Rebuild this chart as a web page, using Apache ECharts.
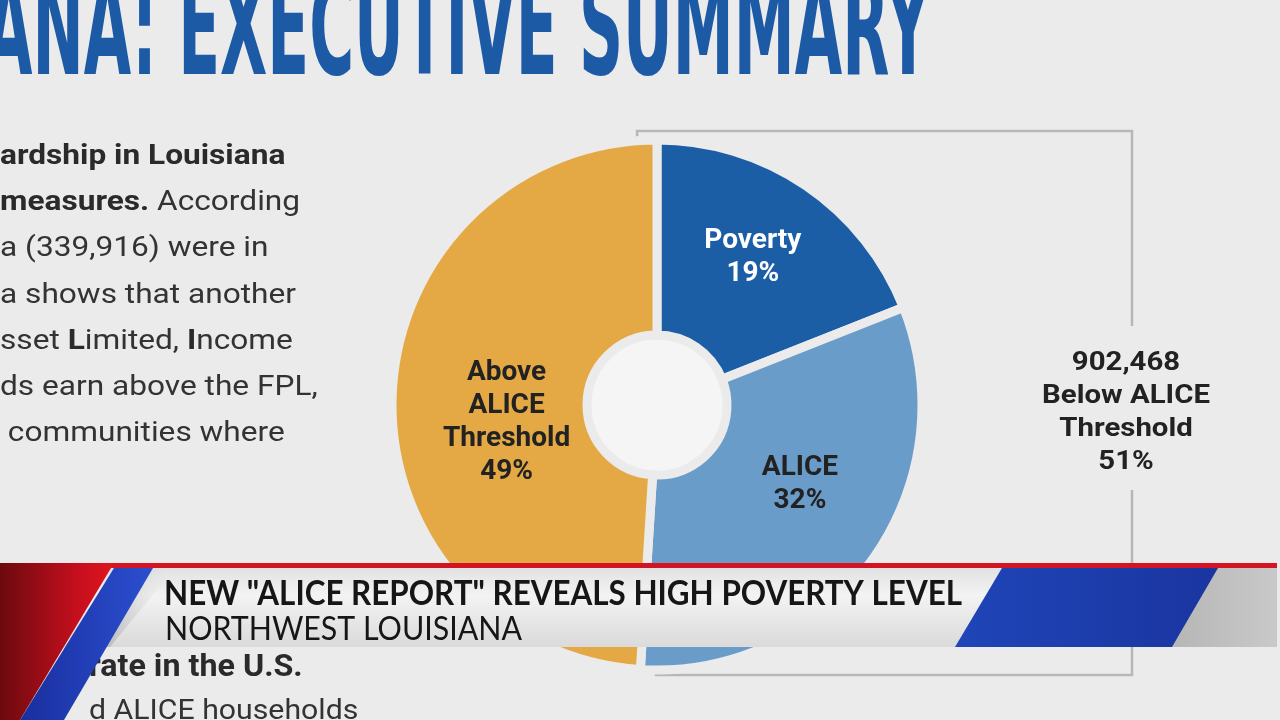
<!DOCTYPE html>
<html><head><meta charset="utf-8">
<script src="https://cdn.jsdelivr.net/npm/echarts@6/dist/echarts.min.js"></script>
<style>html,body{margin:0;padding:0;background:#ebebeb;}#c{width:1280px;height:720px;}</style>
</head><body><div id="c"></div>
<script>
// ---- data ----
const categories = ['Poverty', 'ALICE', 'Above ALICE Threshold'];
const labelNames = ['Poverty', 'ALICE', 'Above\nALICE\nThreshold'];
const shares = [19, 32, 49];
const belowCount = '902,468';
const belowLabel = ['Below ALICE', 'Threshold'];
const belowShare = 51;
const titleText = 'ANA: EXECUTIVE SUMMARY';
const bodyLines = [
  '{b|ardship in Louisiana}',
  '{b|measures.} According',
  'a (339,916) were in',
  'a shows that another',
  'sset {b|L}imited, {b|I}ncome',
  'ds earn above the FPL,',
  ' communities where'
];
const footLines = ['{b|rate in the U.S.}', 'd ALICE households'];
const bannerHead = 'NEW "ALICE REPORT" REVEALS HIGH POVERTY LEVEL';
const bannerSub = 'NORTHWEST LOUISIANA';

// ---- helpers ----
const mctx = document.createElement('canvas').getContext('2d');
function textW(t, font) { mctx.font = font; return mctx.measureText(t).width; }

const sliceColors = ['#1b5ea6', '#6a9cc9', '#e4a944'];
const sliceLabelColors = ['#ffffff', '#222222', '#222222'];
const labelShift = [[0, -6], [5, -21], [20, 23]];
const CX = 657, CY = 405;
const STRETCH = 1.13;

const titleFont = 'bold 100px "Liberation Sans Narrow", "DejaVu Sans Condensed", sans-serif';
const titleSX = 945 / textW(titleText, titleFont);
const headFont = 'bold 35px Lato, "Liberation Sans Narrow", sans-serif';
const headSX = 798 / textW(bannerHead, headFont);
const subFont = '32px Lato, "Liberation Sans Narrow", sans-serif';
const subSX = 357 / textW(bannerSub, subFont);

const graphics = [];
// title
graphics.push({type: 'text', x: -15, y: 39, scaleX: titleSX, scaleY: 1.36, z: 5,
  style: {text: titleText, x: 0, y: 0, font: titleFont, fill: '#1c5aa6', textAlign: 'left', textVerticalAlign: 'middle'}});
// paragraph
bodyLines.forEach((t, i) => {
  graphics.push({type: 'text', x: 0, y: 157 + i * 46.2, z: 5, scaleX: STRETCH,
    style: {text: t, x: 0, y: 0, fontFamily: 'Roboto', fontSize: 28, fill: '#333', textVerticalAlign: 'middle',
      rich: {b: {fontFamily: 'Roboto', fontSize: 28, fontWeight: 'bold', fill: '#2a2a2a'}}}});
});
footLines.forEach((t, i) => {
  graphics.push({type: 'text', x: 89, y: 668 + i * 44, z: 5, scaleX: i === 0 ? 1.04 : 1.08,
    style: {text: t, x: 0, y: 0, fontFamily: 'Roboto', fontSize: 28, fill: '#333', textVerticalAlign: 'middle',
      rich: {b: {fontFamily: 'Roboto', fontSize: 31, fontWeight: 'bold', fill: '#2a2a2a'}}}});
});
// bracket box around the below-ALICE share
graphics.push({type: 'polyline', z: 1, silent: true,
  shape: {points: [[1132, 326], [1132, 131], [637, 131], [656, 675], [1132, 675], [1132, 490]]},
  style: {stroke: '#b7b7b7', lineWidth: 2.5, fill: null}});
// hole
graphics.push({type: 'circle', z: 1, shape: {cx: CX, cy: CY, r: 70},
  style: {fill: '#f5f5f5', stroke: '#b9b9b9', lineWidth: 2}});
// right summary text
graphics.push({type: 'text', x: 1126, y: 413, z: 5, scaleX: 1.13,
  style: {text: [belowCount].concat(belowLabel, [belowShare + '%']).join('\n'), x: 0, y: 0,
    fontFamily: 'Roboto', fontWeight: 'bold', fontSize: 26, lineHeight: 33.3, fill: '#222',
    textAlign: 'center', textVerticalAlign: 'middle'}});
// news banner
graphics.push({type: 'rect', z: 20, shape: {x: 0, y: 568, width: 1277, height: 79},
  style: {fill: {type: 'linear', x: 0, y: 0, x2: 0, y2: 1, colorStops: [
    {offset: 0, color: '#e2e2e2'}, {offset: 0.35, color: '#f3f3f3'}, {offset: 1, color: '#dadada'}]}}});
graphics.push({type: 'polygon', z: 21, shape: {points: [[152, 568], [175, 568], [110, 647], [80, 647]]},
  style: {fill: {type: 'linear', x: 0, y: 0, x2: 1, y2: 0, colorStops: [
    {offset: 0, color: '#9a9a9a'}, {offset: 1, color: 'rgba(230,230,230,0)'}]}}});
graphics.push({type: 'polygon', z: 21, shape: {points: [[1150, 568], [1277, 568], [1277, 647], [1100, 647]]},
  style: {fill: {type: 'linear', x: 0, y: 0, x2: 1, y2: 0, colorStops: [
    {offset: 0, color: '#a9a9a9'}, {offset: 1, color: '#c9c9c9'}]}}});
graphics.push({type: 'polygon', z: 22, shape: {points: [[1002, 568], [1218, 568], [1172, 647], [955, 647]]},
  style: {fill: {type: 'linear', x: 0, y: 0, x2: 1, y2: 0, colorStops: [
    {offset: 0, color: '#1f45b8'}, {offset: 1, color: '#1a35a0'}]}}});
graphics.push({type: 'rect', z: 23, shape: {x: 0, y: 563, width: 1277, height: 5}, style: {fill: '#d31423'}});
graphics.push({type: 'polygon', z: 24, shape: {points: [[0, 563], [114, 563], [20, 720], [0, 720]]},
  style: {fill: {type: 'linear', x: 0, y: 0, x2: 1, y2: 0, colorStops: [
    {offset: 0, color: '#6b0a0e'}, {offset: 0.7, color: '#c80f1e'}, {offset: 1, color: '#e0151f'}]}}});
graphics.push({type: 'polygon', z: 24, shape: {points: [[114, 568], [153, 568], [64, 720], [20, 720]]},
  style: {fill: {type: 'linear', x: 0, y: 0, x2: 1, y2: 0, colorStops: [
    {offset: 0, color: '#1a2e9e'}, {offset: 1, color: '#2b4fd0'}]}}});
graphics.push({type: 'text', x: 164, y: 594, z: 30, scaleX: headSX, scaleY: 1,
  style: {text: bannerHead, x: 0, y: 0, font: headFont, fill: '#161616', textVerticalAlign: 'middle'}});
graphics.push({type: 'text', x: 165, y: 630, z: 30, scaleX: subSX, scaleY: 1,
  style: {text: bannerSub, x: 0, y: 0, font: subFont, fill: '#161616', textVerticalAlign: 'middle'}});

const chart = echarts.init(document.getElementById('c'), null, {renderer: 'canvas'});
chart.setOption({
  backgroundColor: '#ebebeb',
  animation: false,
  graphic: {elements: graphics},
  series: [{
    type: 'pie', z: 3, silent: true,
    center: [CX, CY], radius: [70, 265], startAngle: 90, clockwise: true,
    data: categories.map((c, i) => ({name: c, value: shares[i],
      itemStyle: {color: sliceColors[i]}, label: {color: sliceLabelColors[i]}})),
    itemStyle: {borderColor: '#ebebeb', borderWidth: 9},
    label: {show: true, position: 'inside',
      formatter: p => labelNames[p.dataIndex] + '\n' + p.value + '%',
      fontFamily: 'Roboto', fontWeight: 'bold', fontSize: 28, lineHeight: 33},
    labelLayout: p => ({dx: labelShift[p.dataIndex][0], dy: labelShift[p.dataIndex][1]}),
    labelLine: {show: false}
  }]
});
</script></body></html>
